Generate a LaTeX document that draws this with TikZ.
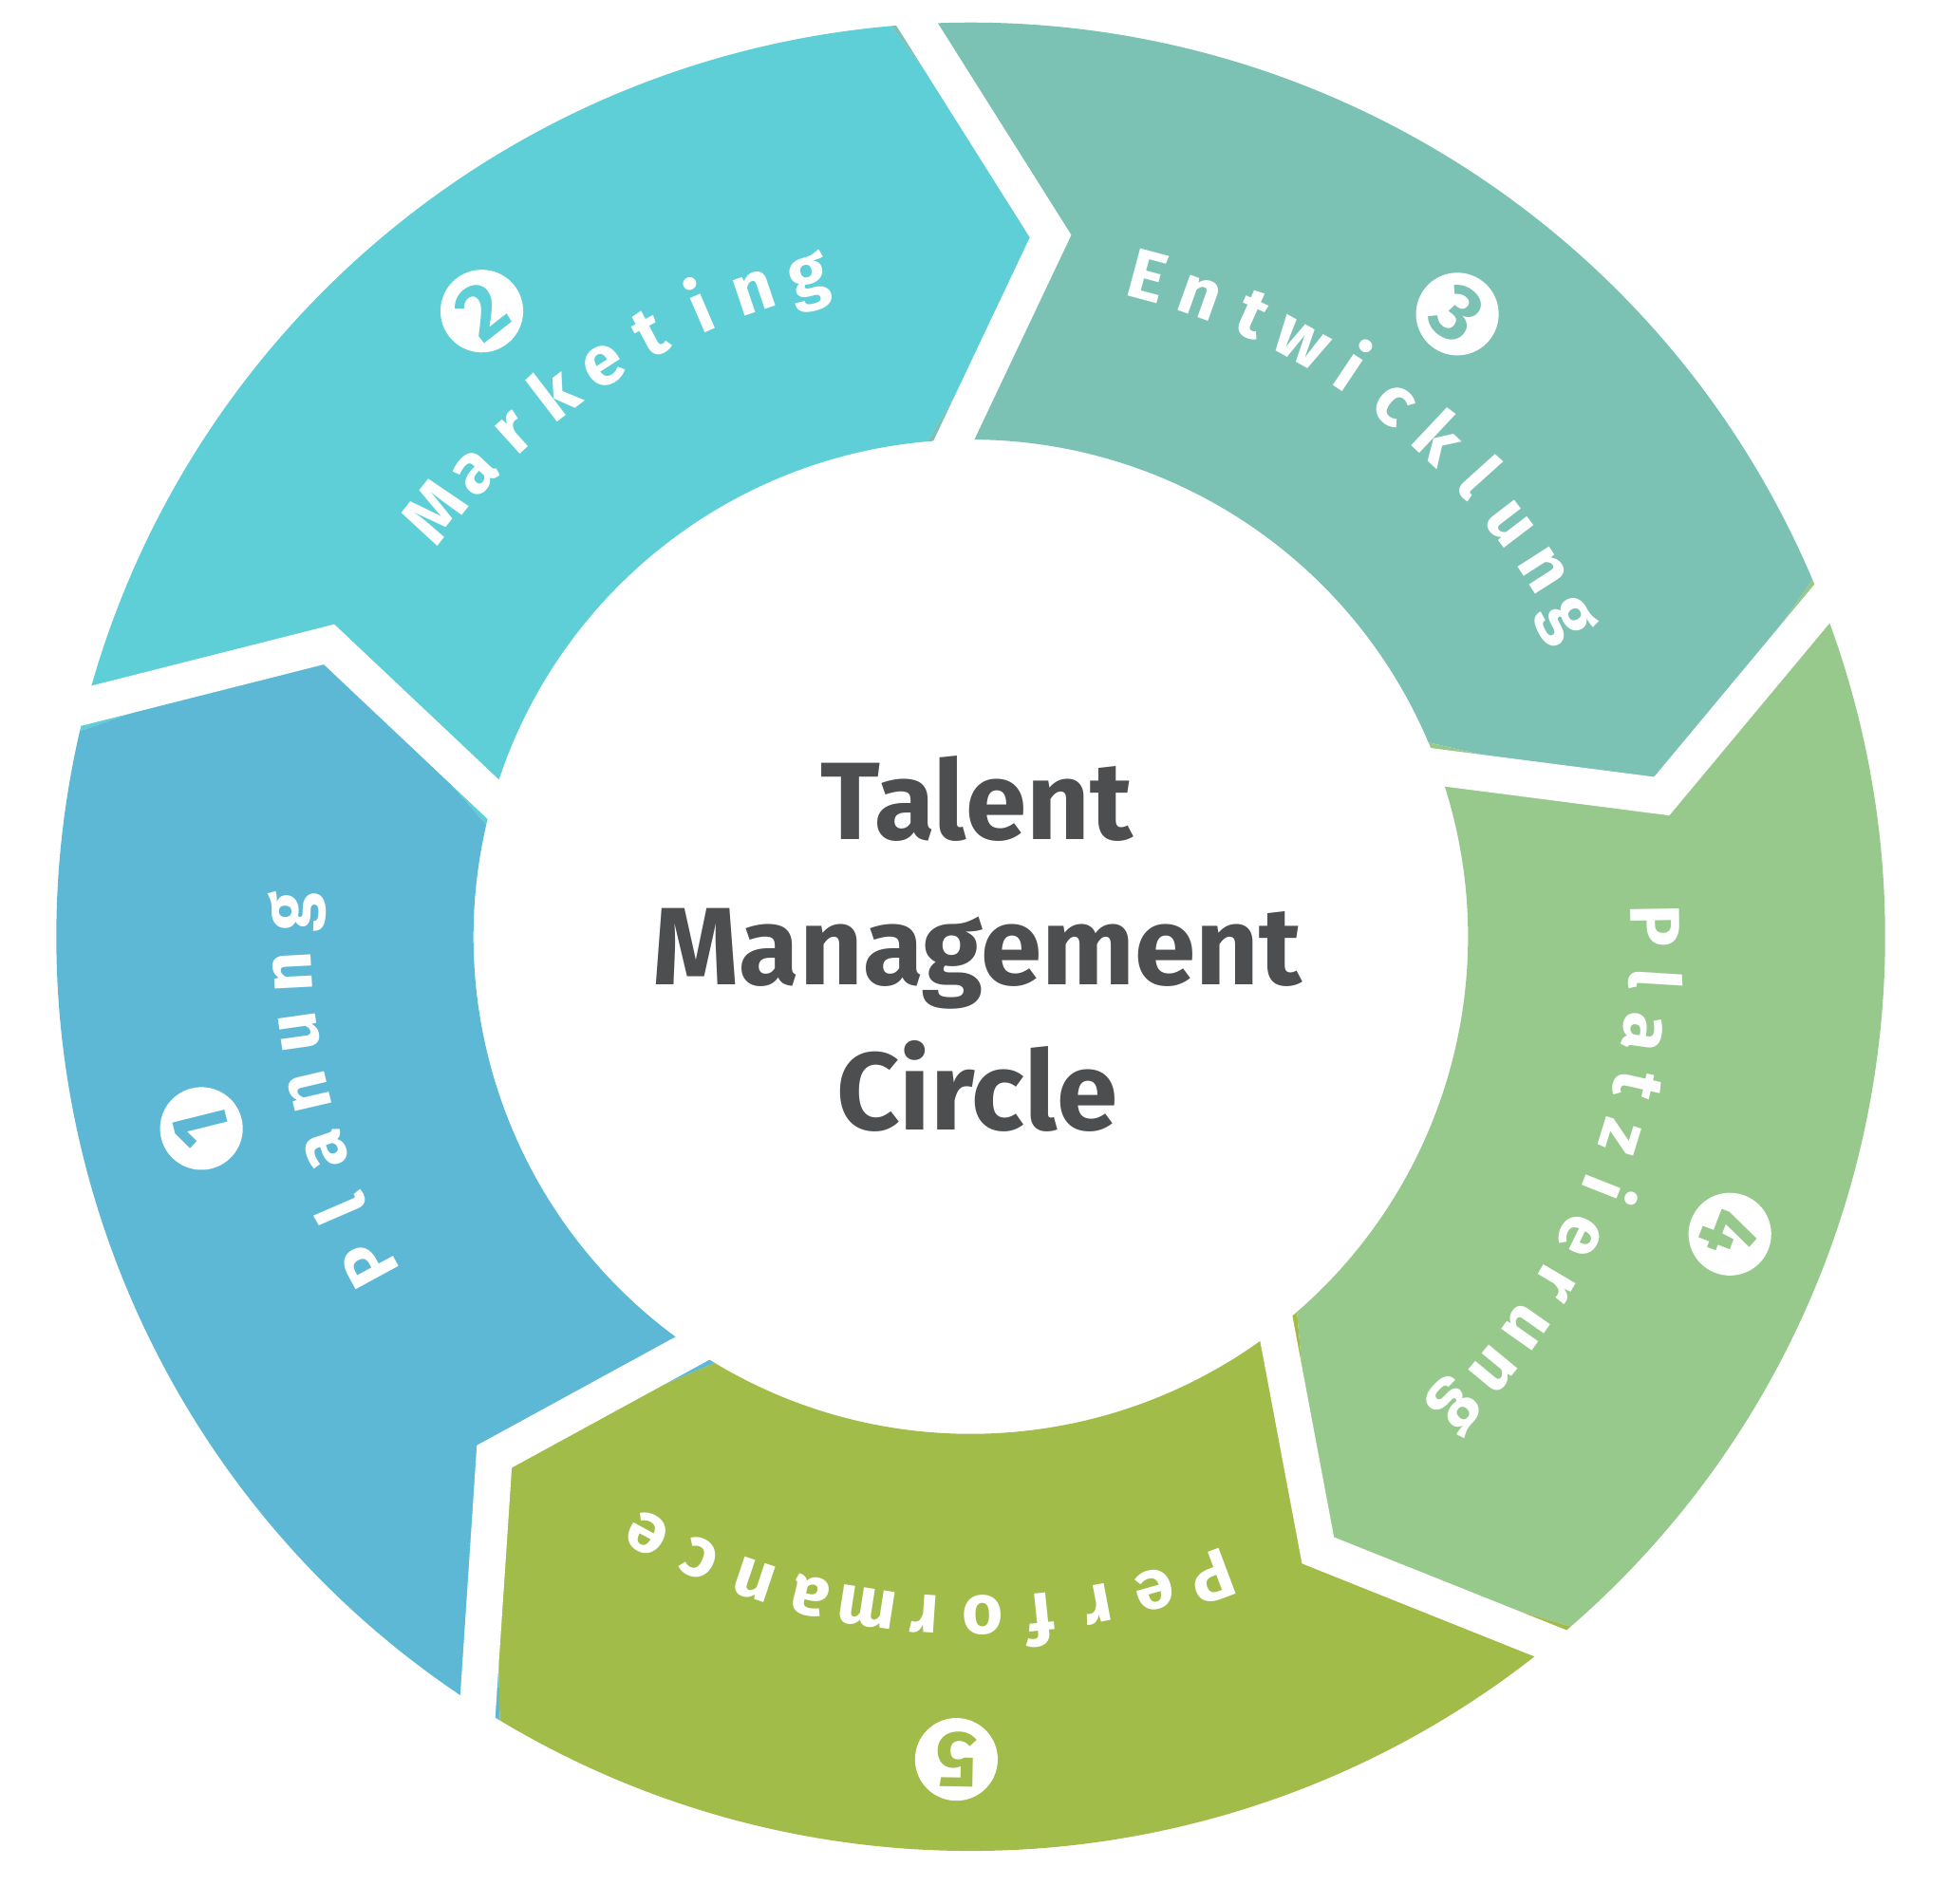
\documentclass[tikz,border=0pt]{standalone}
\usepackage{fontspec}
\setmainfont{Fira Sans}
\definecolor{cMark}{HTML}{5ECFD6}
\definecolor{cEntw}{HTML}{7BC2B4}
\definecolor{cPlatz}{HTML}{97C98D}
\definecolor{cPerf}{HTML}{A2BC4A}
\definecolor{cPlan}{HTML}{5DB8D6}
\definecolor{cTitle}{HTML}{4D4E50}
\newcommand\ringseg[3]{%
  \fill[#3] ([shift={(C)}]#1:730) arc[start angle=#1,end angle=#2,radius=730]
    -- ([shift={(C)}]{#2-11.5}:563) -- ([shift={(C)}]#2:397)
    arc[start angle=#2,end angle=#1,radius=397]
    -- ([shift={(C)}]{#1-11.5}:563) -- cycle;}
\newcommand\ringgap[1]{%
  \draw[white,line width=0.29cm,line join=miter] ([shift={(C)}]#1:770) -- ([shift={(C)}]{#1-11.5}:563) -- ([shift={(C)}]#1:360);}
% name, start angle, step, letters
\newcommand\ringtext[4]{%
  \foreach \l [count=\i] in {#4} {
    \pgfmathsetmacro\ang{#2-(\i-1)*#3}
    \node[lett,rotate=\ang-90] (#1-\i) at ([shift={(C)}]\ang:527) {\l};
  }}
\tikzset{numc/.style={circle,fill=white,minimum size=0.66cm,inner sep=0pt,font=\fontsize{18}{20}\bfseries},
  lett/.style={anchor=base,inner sep=0pt,text=white,font=\fontsize{16}{19}\bfseries}}
\begin{document}
\begin{tikzpicture}[x=0.01cm,y=0.01cm]
\useasboundingbox (0,0) rectangle (1556,1520);
\coordinate (C) at (775,772);
\ringseg{167}{95}{cMark}
\ringseg{95}{23}{cEntw}
\ringseg{23}{-49}{cPlatz}
\ringseg{-49}{-121}{cPerf}
\ringseg{239}{167}{cPlan}
\foreach \b in {95,23,-49,-121,167} {\ringgap{\b}}
\ringtext{mk}{141.6}{4.72}{M,a,r,k,e,t,i,n,g}
\ringtext{en}{75}{4.7}{E,n,t,w,i,c,k,l,u,n,g}
\ringtext{pl}{0.9}{4.5}{P,l,a,t,z,i,e,r,u,n,g}
\ringtext{pf}{-69.4}{4.9}{P,e,r,f,o,r,m,a,n,c,e}
\ringtext{pn}{208.5}{5.1}{P,l,a,n,u,n,g}
\node[numc,text=cPlan,rotate=104] (n1) at ([shift={(C)}]194:633) {1};
\node[numc,text=cMark,rotate=38] (n2) at ([shift={(C)}]128:634) {2};
\node[numc,text=cEntw,rotate=-38] (n3) at ([shift={(C)}]52:631) {3};
\node[numc,text=cPlatz,rotate=-111] (n4) at ([shift={(C)}]-21.4:651) {4};
\node[numc,text=cPerf,rotate=-181] (n5) at ([shift={(C)}]-91:657) {5};
\node[text=cTitle,align=center,font=\fontsize{25}{33}\bfseries] (title) at (780,766) {Talent\\Management\\Circle};
\end{tikzpicture}
\end{document}
